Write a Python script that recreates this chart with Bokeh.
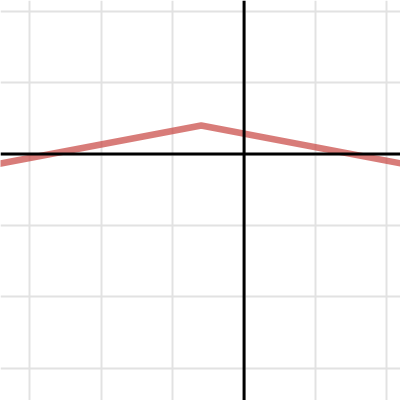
from bokeh.plotting import figure
from bokeh.models import Range1d, Span, Grid, SingleIntervalTicker
from bokeh.embed import file_html
from bokeh.resources import INLINE

# data (graph units)
line_x = [-3.5, -0.6, 2.3]
line_y = [-0.151, 0.40, -0.151]

x_start, x_end = -3.41, 2.19
y_start, y_end = -3.452, 2.15
grid_step = 1

p = figure(width=400, height=400, output_backend="svg", toolbar_location=None,
           x_range=Range1d(x_start, x_end), y_range=Range1d(y_start, y_end),
           x_axis_type=None, y_axis_type=None, min_border=0)
p.outline_line_color = None
p.background_fill_color = "white"
p.border_fill_color = "white"

for dim in (0, 1):
    g = Grid(dimension=dim, ticker=SingleIntervalTicker(interval=grid_step),
             grid_line_color="#e2e2e2", grid_line_width=2)
    p.add_layout(g)

p.add_layout(Span(location=0, dimension="width", line_color="black", line_width=3))
p.add_layout(Span(location=0, dimension="height", line_color="black", line_width=3))

p.line(line_x, line_y, line_color="#c74440", line_alpha=0.7, line_width=6.5,
       line_join="round", line_cap="round")

open("out.html", "w").write(file_html(p, INLINE))
